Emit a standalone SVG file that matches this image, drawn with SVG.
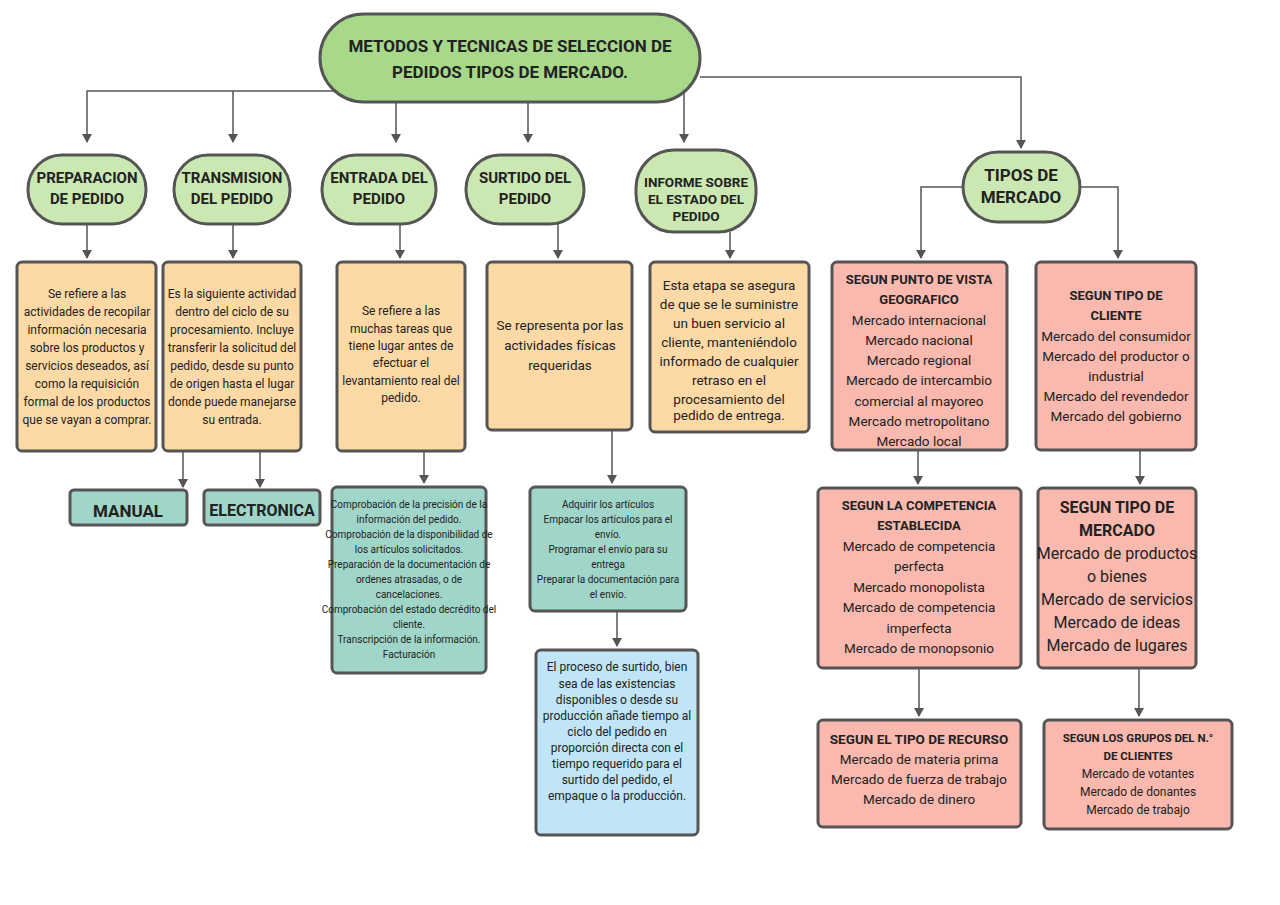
<svg xmlns="http://www.w3.org/2000/svg" width="1280" height="905" viewBox="0 0 1280 905">
<style>
text{font-family:Roboto,"Liberation Sans",sans-serif;fill:#222;text-anchor:middle}
.b{stroke:#555;stroke-width:3}
.g1{fill:#a8d98a}.g2{fill:#cbe8b3}.o{fill:#fdd9a6}.r{fill:#f9b9ae}.t{fill:#9fd6c9}.bl{fill:#c0e5f6}
.h{font-weight:bold;font-size:15px}
.s{font-size:12px}.xs{font-size:10px}.m{font-size:13.5px}.l{font-size:16px}
.c{stroke:#555;stroke-width:1.5;fill:none;marker-end:url(#a)}
</style>
<defs><marker id="a" markerWidth="10" markerHeight="10" refX="8" refY="5" orient="auto" markerUnits="userSpaceOnUse"><path d="M0,0 L9,5 L0,10Z" fill="#555"/></marker></defs>
<rect width="1280" height="905" fill="#fff"/>
<g id="connectors">
<path class="c" d="M340,91 H87 V142"/><path class="c" d="M233,91 V142"/><path class="c" d="M396,91 V142"/><path class="c" d="M528,91 V142"/>
<path class="c" d="M684,90 V142"/><path class="c" d="M700,77 H1021 V148"/>
<path class="c" d="M87,224 V258"/><path class="c" d="M233,224 V258"/><path class="c" d="M400,224 V258"/><path class="c" d="M558,224 V258"/><path class="c" d="M730,232 V258"/>
<path class="c" d="M963,187 H921 V258"/><path class="c" d="M1080,187 H1118 V258"/>
<path class="c" d="M183,451 V487"/><path class="c" d="M260,451 V487"/><path class="c" d="M424,451 V483"/><path class="c" d="M612,430 V483"/><path class="c" d="M617,611 V646"/>
<path class="c" d="M918,450 V484"/><path class="c" d="M1140,450 V484"/><path class="c" d="M919,668 V716"/><path class="c" d="M1139,668 V716"/>
</g>
<g id="title"><rect class="g1 b" x="320" y="14" width="380" height="88" rx="44"/><text x="510" y="52" class="h" style="font-size:17px">METODOS Y TECNICAS DE SELECCION DE</text><text x="510" y="78" class="h" style="font-size:17px">PEDIDOS TIPOS DE MERCADO.</text></g>
<g id="n1"><rect class="g2 b" x="28" y="155" width="118" height="69" rx="34"/><text x="87" y="183" class="h">PREPARACION</text><text x="87" y="204" class="h">DE PEDIDO</text></g>
<g id="n2"><rect class="g2 b" x="174" y="155" width="116" height="69" rx="34"/><text x="232" y="183" class="h">TRANSMISION</text><text x="232" y="204" class="h">DEL PEDIDO</text></g>
<g id="n3"><rect class="g2 b" x="322" y="155" width="114" height="69" rx="34"/><text x="379" y="183" class="h">ENTRADA DEL</text><text x="379" y="204" class="h">PEDIDO</text></g>
<g id="n4"><rect class="g2 b" x="466" y="155" width="118" height="69" rx="34"/><text x="525" y="183" class="h">SURTIDO DEL</text><text x="525" y="204" class="h">PEDIDO</text></g>
<g id="n5"><rect class="g2 b" x="636" y="150" width="120" height="82" rx="38"/><text x="696" y="187" class="h" style="font-size:13.5px">INFORME SOBRE</text><text x="696" y="204" class="h" style="font-size:13.5px">EL ESTADO DEL</text><text x="696" y="221" class="h" style="font-size:13.5px">PEDIDO</text></g>
<g id="n6"><rect class="g2 b" x="963" y="152" width="117" height="70" rx="35"/><text x="1021" y="181" class="h" style="font-size:17px">TIPOS DE</text><text x="1021" y="203" class="h" style="font-size:17px">MERCADO</text></g>
<g id="o1" class="s"><rect class="o b" x="17" y="262" width="139" height="189" rx="5"/><text x="87" y="298">Se refiere a las</text><text x="87" y="316">actividades de recopilar</text><text x="87" y="334">información necesaria</text><text x="87" y="352">sobre los productos y</text><text x="87" y="370">servicios deseados, así</text><text x="87" y="388">como la requisición</text><text x="87" y="406">formal de los productos</text><text x="87" y="424">que se vayan a comprar.</text></g>
<g id="o2" class="s"><rect class="o b" x="163" y="262" width="138" height="189" rx="5"/><text x="232" y="298">Es la siguiente actividad</text><text x="232" y="316">dentro del ciclo de su</text><text x="232" y="334">procesamiento. Incluye</text><text x="232" y="352">transferir la solicitud del</text><text x="232" y="370">pedido, desde su punto</text><text x="232" y="388">de origen hasta el lugar</text><text x="232" y="406">donde puede manejarse</text><text x="232" y="424">su entrada.</text></g>
<g id="o3" class="s"><rect class="o b" x="337" y="262" width="128" height="189" rx="5"/><text x="401" y="315">Se refiere a las</text><text x="401" y="333">muchas tareas que</text><text x="401" y="350">tiene lugar antes de</text><text x="401" y="367">efectuar el</text><text x="401" y="385">levantamiento real del</text><text x="401" y="402">pedido.</text></g>
<g id="o4" class="m"><rect class="o b" x="487" y="262" width="145" height="168" rx="5"/><text x="560" y="330">Se representa por las</text><text x="560" y="350">actividades físicas</text><text x="560" y="370">requeridas</text></g>
<g id="o5" class="m"><rect class="o b" x="650" y="262" width="159" height="170" rx="5"/><text x="729" y="290">Esta etapa se asegura</text><text x="729" y="309">de que se le suministre</text><text x="729" y="328">un buen servicio al</text><text x="729" y="347">cliente, manteniéndolo</text><text x="729" y="366">informado de cualquier</text><text x="729" y="385">retraso en el</text><text x="729" y="404">procesamiento del</text><text x="729" y="420">pedido de entrega.</text></g>
<g id="t1"><rect class="t b" x="70" y="490" width="117" height="35" rx="4"/><text x="128" y="517" class="l" style="font-weight:bold;font-size:17px">MANUAL</text></g>
<g id="t2"><rect class="t b" x="204" y="490" width="116" height="35" rx="4"/><text x="262" y="516" class="l" style="font-weight:bold">ELECTRONICA</text></g>
<g id="t3" class="xs"><rect class="t b" x="332" y="487" width="154" height="186" rx="5"/><text x="409" y="508">Comprobación de la precisión de la</text><text x="409" y="523">información del pedido.</text><text x="409" y="538">Comprobación de la disponibilidad de</text><text x="409" y="553">los artículos solicitados.</text><text x="409" y="568">Preparación de la documentación de</text><text x="409" y="583">ordenes atrasadas, o de</text><text x="409" y="598">cancelaciones.</text><text x="409" y="613">Comprobación del estado decrédito del</text><text x="409" y="628">cliente.</text><text x="409" y="643">Transcripción de la información.</text><text x="409" y="658">Facturación</text></g>
<g id="t4" class="xs"><rect class="t b" x="530" y="487" width="156" height="124" rx="5"/><text x="608" y="508">Adquirir los artículos</text><text x="608" y="523">Empacar los artículos para el</text><text x="608" y="538">envío.</text><text x="608" y="553">Programar el envío para su</text><text x="608" y="568">entrega</text><text x="608" y="583">Preparar la documentación para</text><text x="608" y="598">el envío.</text></g>
<g id="bl" class="s"><rect class="bl b" x="536" y="650" width="162" height="185" rx="5"/><text x="617" y="671">El proceso de surtido, bien</text><text x="617" y="688">sea de las existencias</text><text x="617" y="704">disponibles o desde su</text><text x="617" y="720">producción añade tiempo al</text><text x="617" y="736">ciclo del pedido en</text><text x="617" y="752">proporción directa con el</text><text x="617" y="768">tiempo requerido para el</text><text x="617" y="784">surtido del pedido, el</text><text x="617" y="800">empaque o la producción.</text></g>
<g id="r1" class="m"><rect class="r b" x="832" y="262" width="175" height="188" rx="5"/><text x="919" y="284" class="h" style="font-size:13px">SEGUN PUNTO DE VISTA</text><text x="919" y="304" class="h" style="font-size:13px">GEOGRAFICO</text><text x="919" y="325">Mercado internacional</text><text x="919" y="345">Mercado nacional</text><text x="919" y="365">Mercado regional</text><text x="919" y="385">Mercado de intercambio</text><text x="919" y="406">comercial al mayoreo</text><text x="919" y="426">Mercado metropolitano</text><text x="919" y="446">Mercado local</text></g>
<g id="r2" class="m"><rect class="r b" x="1036" y="262" width="160" height="188" rx="5"/><text x="1116" y="300" class="h" style="font-size:13px">SEGUN TIPO DE</text><text x="1116" y="320" class="h" style="font-size:13px">CLIENTE</text><text x="1116" y="341">Mercado del consumidor</text><text x="1116" y="361">Mercado del productor o</text><text x="1116" y="381">industrial</text><text x="1116" y="401">Mercado del revendedor</text><text x="1116" y="421">Mercado del gobierno</text></g>
<g id="r3" class="m"><rect class="r b" x="818" y="488" width="203" height="180" rx="5"/><text x="919" y="510" class="h" style="font-size:13px">SEGUN LA COMPETENCIA</text><text x="919" y="530" class="h" style="font-size:13px">ESTABLECIDA</text><text x="919" y="551">Mercado de competencia</text><text x="919" y="571">perfecta</text><text x="919" y="592">Mercado monopolista</text><text x="919" y="612">Mercado de competencia</text><text x="919" y="633">imperfecta</text><text x="919" y="653">Mercado de monopsonio</text></g>
<g id="r4" class="l"><rect class="r b" x="1038" y="488" width="158" height="180" rx="5"/><text x="1117" y="513" class="h" style="font-size:16px">SEGUN TIPO DE</text><text x="1117" y="536" class="h" style="font-size:16px">MERCADO</text><text x="1117" y="559">Mercado de productos</text><text x="1117" y="582">o bienes</text><text x="1117" y="605">Mercado de servicios</text><text x="1117" y="628">Mercado de ideas</text><text x="1117" y="651">Mercado de lugares</text></g>
<g id="r5" class="m"><rect class="r b" x="818" y="720" width="203" height="107" rx="5"/><text x="919" y="744" class="h" style="font-size:13.5px">SEGUN EL TIPO DE RECURSO</text><text x="919" y="764">Mercado de materia prima</text><text x="919" y="784">Mercado de fuerza de trabajo</text><text x="919" y="804">Mercado de dinero</text></g>
<g id="r6" class="s"><rect class="r b" x="1044" y="720" width="188" height="109" rx="5"/><text x="1138" y="742" class="h" style="font-size:11.5px">SEGUN LOS GRUPOS DEL N.°</text><text x="1138" y="760" class="h" style="font-size:11.5px">DE CLIENTES</text><text x="1138" y="778">Mercado de votantes</text><text x="1138" y="796">Mercado de donantes</text><text x="1138" y="814">Mercado de trabajo</text></g>
</svg>
